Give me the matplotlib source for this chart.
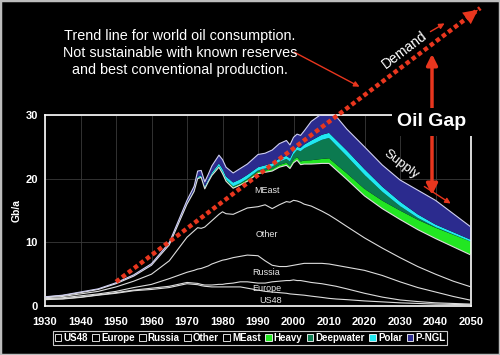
import numpy as np
import matplotlib
matplotlib.use('Agg')
import matplotlib.pyplot as plt
from matplotlib.patches import Patch, Rectangle

plt.rcParams['font.family'] = ['Liberation Sans', 'DejaVu Sans']

# production by region, Gb/a
years = [1930, 1935, 1940, 1945, 1950, 1955, 1960, 1965,
         1970, 1972, 1973, 1974, 1975, 1976, 1977, 1979,
         1980, 1981, 1983, 1985, 1987,
         1990, 1992, 1994, 1996, 1998, 1999,
         2000, 2001, 2002, 2003, 2005, 2008,
         2010, 2012, 2015,
         2020, 2025, 2030, 2035, 2040, 2045, 2050]
us48 = [1.0, 1.1, 1.35, 1.7, 2.0, 2.4, 2.6, 2.9,
        3.5, 3.4, 3.35, 3.2, 3.1, 3.05, 3.0, 3.0,
        3.0, 3.0, 3.0, 3.0, 2.8,
        2.5, 2.3, 2.2, 2.1, 2.0, 1.9,
        1.85, 1.8, 1.75, 1.7, 1.55, 1.35,
        1.2, 1.1, 1.0,
        0.8, 0.65, 0.5, 0.4, 0.3, 0.25, 0.2]
europe = [0.05, 0.05, 0.05, 0.05, 0.1, 0.1, 0.2, 0.2,
          0.2, 0.2, 0.2, 0.2, 0.2, 0.25, 0.3, 0.4,
          0.4, 0.5, 0.6, 0.8, 1.0,
          1.1, 1.3, 1.6, 1.8, 2.0, 2.1,
          2.25, 2.2, 2.25, 2.2, 2.15, 2.15,
          2.1, 2.0, 1.7,
          1.2, 0.75, 0.45, 0.3, 0.2, 0.15, 0.1]
russia = [0.1, 0.15, 0.2, 0.15, 0.2, 0.4, 0.6, 1.2,
          1.6, 2.0, 2.25, 2.5, 2.8, 3.0, 3.3, 3.6,
          3.8, 3.8, 4.0, 4.0, 4.2,
          4.3, 3.5, 2.6, 2.3, 2.2, 2.3,
          2.3, 2.5, 2.6, 2.8, 3.0, 3.2,
          3.3, 3.3, 3.4,
          3.6, 3.4, 2.85, 2.2, 1.7, 1.1, 0.6]
other = [0.15, 0.2, 0.3, 0.4, 0.7, 1.0, 1.6, 2.8,
         5.5, 6.2, 6.5, 6.3, 6.3, 6.6, 6.8, 7.4,
         7.6, 7.2, 6.8, 7.1, 7.4,
         7.7, 8.8, 8.9, 9.7, 10.2, 10.0,
         10.2, 10.0, 9.7, 9.3, 9.0, 8.2,
         7.7, 7.2, 6.4,
         5.1, 4.3, 3.8, 3.3, 2.8, 2.4, 2.1]
meast = [0.1, 0.15, 0.2, 0.3, 0.5, 0.8, 1.4, 2.5,
         5.2, 6.2, 7.7, 8.0, 6.0, 6.6, 7.1, 7.4,
         6.0, 5.1, 4.1, 4.1, 4.2,
         5.2, 5.1, 5.9, 5.9, 5.7, 5.3,
         5.9, 6.4, 5.9, 6.3, 6.6, 7.5,
         8.1, 7.8, 7.4,
         6.6, 6.2, 6.0, 5.8, 5.6, 5.4, 5.0]
heavy = [0, 0, 0, 0, 0, 0, 0, 0,
         0.05, 0.05, 0.1, 0.1, 0.1, 0.1, 0.15, 0.15,
         0.2, 0.2, 0.2, 0.2, 0.25,
         0.3, 0.3, 0.3, 0.35, 0.4, 0.4,
         0.45, 0.5, 0.5, 0.55, 0.6, 0.7,
         0.8, 0.85, 0.95,
         1.1, 1.25, 1.4, 1.55, 1.7, 1.9, 2.1]
deepwater = [0, 0, 0, 0, 0, 0, 0, 0,
             0, 0, 0, 0, 0, 0, 0, 0.05,
             0.05, 0.05, 0.1, 0.1, 0.15,
             0.2, 0.3, 0.4, 0.5, 0.6, 0.7,
             0.9, 1.1, 1.6, 1.9, 2.4, 3.0,
             3.2, 3.0, 2.7,
             2.2, 1.4, 0.7, 0.3, 0.1, 0.05, 0.0]
polar = [0, 0, 0, 0, 0, 0, 0, 0,
         0.1, 0.15, 0.2, 0.2, 0.3, 0.3, 0.3, 0.4,
         0.5, 0.5, 0.6, 0.6, 0.6,
         0.5, 0.5, 0.5, 0.5, 0.5, 0.5,
         0.5, 0.5, 0.55, 0.6, 0.7, 0.8,
         0.8, 0.85, 0.9,
         0.9, 0.8, 0.7, 0.55, 0.4, 0.35, 0.3]
pngl = [0.05, 0.05, 0.1, 0.1, 0.15, 0.2, 0.25, 0.35,
        0.45, 0.6, 0.9, 0.8, 0.7, 0.8, 1.05, 1.3,
        1.45, 1.45, 1.5, 1.7, 1.7,
        2.0, 1.9, 2.1, 2.35, 2.4, 2.1,
        2.15, 2.0, 1.95, 2.15, 3.0, 3.3,
        3.3, 3.7, 3.35,
        3.5, 3.4, 3.4, 3.8, 3.8, 2.9, 2.0]

labels = ['US48', 'Europe', 'Russia', 'Other', 'MEast',
          'Heavy', 'Deepwater', 'Polar', 'P-NGL']
colors = ['black', 'black', 'black', 'black', 'black',
          '#22e622', '#0c7a50', '#20e8f0', '#2b2b8e']

# demand trend line
trend_years = [1950, 2052.6]
trend_vals = [3.8, 46.8]

red = '#e8361e'


def fp(x, y):
    # pixel position -> figure fraction
    return (x / 500, 1 - y / 355)


fig = plt.figure(figsize=(5, 3.55), dpi=100, facecolor='black')
ax = fig.add_axes([0.09, 0.138, 0.852, 0.538])
ax.set_facecolor('black')

layers = [us48, europe, russia, other, meast, heavy, deepwater, polar, pngl]
ax.stackplot(years, *layers, colors=colors, linewidth=0, zorder=2)
cum = np.cumsum(np.array(layers), axis=0)
for row in cum[:5]:
    ax.plot(years, row, color='#dddddd', lw=0.8, zorder=3)
ax.plot(years, cum[-1], color='#d0d0f0', lw=0.8, zorder=3)

ax.set_xlim(1930, 2050)
ax.set_ylim(0, 30)
ax.set_xticks(range(1930, 2051, 10))
ax.set_yticks([0, 10, 20, 30])
ax.grid(True, color='#3a3a3a', lw=0.6, zorder=0)
ax.set_axisbelow(True)
ax.tick_params(colors='white', length=0, labelsize=8)
ax.tick_params(axis='x', pad=8)
ax.tick_params(axis='y', pad=5)
for lbl in ax.get_xticklabels() + ax.get_yticklabels():
    lbl.set_fontweight('bold')
for s in ax.spines.values():
    s.set_color('white')
    s.set_linewidth(1.2)
ax.set_ylabel('Gb/a', color='white', fontsize=7.5, fontweight='bold')
ax.yaxis.set_label_coords(-0.056, 0.5)

# region labels
for name, x, y in [('MEast', 1992.5, 18.2), ('Other', 1992.5, 11.3),
                   ('Russia', 1992.3, 5.2), ('Europe', 1992.5, 2.7),
                   ('US48', 1993.4, 0.8)]:
    ax.text(x, y, name, color='#e8e8e8', fontsize=6.5, ha='center', va='center', zorder=4)

# demand trend line with arrow head
ax.plot(trend_years, trend_vals, color=red, lw=3.2, linestyle=(0, (1, 0.7)),
        dash_capstyle='butt', clip_on=False, zorder=5)
ax.annotate('', xy=(trend_years[1], trend_vals[1]),
            xytext=(trend_years[1] - 3, trend_vals[1] - 3 * 0.419),
            arrowprops=dict(arrowstyle='-|>', color=red, lw=0, mutation_scale=26),
            annotation_clip=False, zorder=5)

arrow_kw = dict(xycoords='figure fraction', textcoords='figure fraction')
ax.annotate('', xy=fp(362, 88), xytext=fp(292, 51),
            arrowprops=dict(arrowstyle='-|>', color=red, lw=1, mutation_scale=8), **arrow_kw)
ax.annotate('', xy=fp(447, 22), xytext=fp(428, 33),
            arrowprops=dict(arrowstyle='-|>', color=red, lw=1, mutation_scale=8), **arrow_kw)
ax.annotate('', xy=fp(453, 205), xytext=fp(422, 185),
            arrowprops=dict(arrowstyle='-|>', color=red, lw=1, mutation_scale=8), **arrow_kw)
ax.annotate('', xy=fp(432, 54), xytext=fp(432, 195),
            arrowprops=dict(arrowstyle='<|-|>', color=red, lw=2.5, mutation_scale=16,
                            shrinkA=0, shrinkB=0), **arrow_kw)

fig.text(*fp(180, 53), 'Trend line for world oil consumption.\n'
         'Not sustainable with known reserves\nand best conventional production.',
         color='white', fontsize=10.4, ha='center', va='center', linespacing=1.3)
fig.text(*fp(404, 50), 'Demand', color='white', fontsize=10, rotation=37,
         ha='center', va='center', rotation_mode='anchor')
fig.text(*fp(401, 164), 'Supply', color='white', fontsize=9.5, rotation=-37,
         ha='center', va='center', rotation_mode='anchor')
fig.text(*fp(432, 122), 'Oil Gap', color='white', fontsize=14, fontweight='bold',
         ha='center', va='center', zorder=10,
         bbox=dict(fc='black', ec='none', boxstyle='square,pad=0.3'))

handles = [Patch(facecolor=c, edgecolor='white', lw=0.6) for c in colors]
leg = fig.legend(handles, labels, loc='center', bbox_to_anchor=fp(250, 338), ncol=9,
                 frameon=True, fancybox=False, facecolor='black', edgecolor='white',
                 labelcolor='white', prop={'size': 7, 'weight': 'bold'},
                 handlelength=0.7, handleheight=0.7, handletextpad=0.2,
                 columnspacing=0.45, borderpad=0.2, borderaxespad=0)
leg.get_frame().set_linewidth(0.8)

fig.patches.append(Rectangle((0, 0), 1, 1, transform=fig.transFigure, fill=False,
                             ec='#bdbdbd', lw=2.5))

fig.savefig('out.png', dpi=100, facecolor='black')
